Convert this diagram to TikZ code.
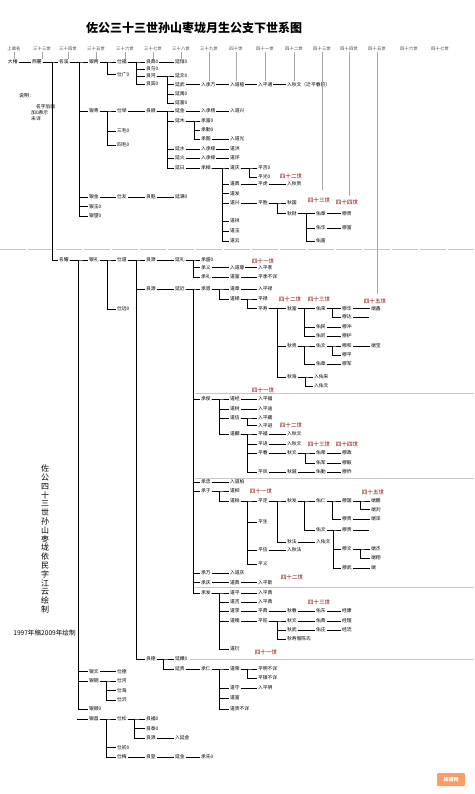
\documentclass[tikz,border=0pt]{standalone}
\usepackage{fontspec}
\newfontfamily\cjk{Noto Sans CJK SC}
\tikzset{
 nd/.style={anchor=west,inner sep=0.8pt,font=\cjk\fontsize{4.8}{5}\selectfont},
 hd/.style={inner sep=0.8pt,font=\cjk\fontsize{4.4}{5}\selectfont,text=black!75},
 rd/.style={inner sep=0.6pt,fill=white,font=\cjk\fontsize{5.6}{6}\selectfont,text=red!55!black},
 ln/.style={line width=0.75pt,black},
 tk/.style={line width=0.6pt,black!35},
 sep/.style={line width=1pt,black!22},
}
\newcommand\N[4]{\node[nd] (#1) at (#2,#3) {#4};}
\newcommand\br[3]{\foreach \cc in {#3}{\draw[ln] (#1.east) -- (#1.east -| #2,0) |- (\cc.west);}}
\newcommand\lk[2]{\draw[ln] (#1.east) -- (#2.west);}
\begin{document}
\begin{tikzpicture}[x=1pt,y=-1pt]
\useasboundingbox (0,0) rectangle (474,794);
\fill[white] (0,0) rectangle (474,794);
% title
\node[font=\cjk\bfseries\fontsize{12}{13}\selectfont] (title) at (194,28) {佐公三十三世孙山枣垅月生公支下世系图};
% headers
\node[hd] (h0) at (14,49) {上辈名};
\node[hd] (h33) at (42,49) {三十三世};
\node[hd] (h34) at (68,49) {三十四世};
\node[hd] (h35) at (96,49) {三十五世};
\node[hd] (h36) at (125,49) {三十六世};
\node[hd] (h37) at (153,49) {三十七世};
\node[hd] (h38) at (181,49) {三十八世};
\node[hd] (h39) at (209,49) {三十九世};
\node[hd] (h40) at (236,49) {四十世};
\node[hd] (h41) at (265,49) {四十一世};
\node[hd] (h42) at (294,49) {四十二世};
\node[hd] (h43) at (322,49) {四十三世};
\node[hd] (h44) at (349,49) {四十四世};
\node[hd] (h45) at (377,49) {四十五世};
\node[hd] (h46) at (409,49) {四十六世};
\node[hd] (h47) at (440,49) {四十七世};
% separators
\draw[sep,dash pattern=on 26pt off 2pt] (0,249.5) -- (474,249.5);
\draw[sep] (195,393.5) -- (474,393.5);
\draw[sep] (195,478) -- (474,478);
\draw[sep] (195,587) -- (474,587);
\draw[sep] (190,659) -- (474,659);
% notes
\node[anchor=west,inner sep=0pt,font=\cjk\fontsize{5}{5}\selectfont] (sm) at (19,96) {说明：};
\node[anchor=north west,inner sep=0pt,align=left,font=\cjk\fontsize{4.8}{6.2}\selectfont] (smt) at (31,104) {\quad 名字后面\\加0表示\\未详};
\node[align=center,inner sep=0pt,font=\cjk\fontsize{8}{8.8}\selectfont] (vt) at (45,539) {佐\\公\\四\\十\\三\\世\\孙\\山\\枣\\垅\\依\\民\\字\\江\\云\\绘\\制};
\node[inner sep=0pt,font=\cjk\fontsize{6.6}{7}\selectfont] (dt) at (44.5,633) {1997年稿2009年绘制};
% ---- top section
\N{t0}{7}{62}{大椿}
\N{t1}{31}{62}{西麓}
\N{t2}{58}{62}{名溪}
\N{t3}{88}{62}{银两}
\N{t4}{116}{62}{仕福}
\N{t4b}{116}{74.5}{仕广0}
\N{t5a}{145}{62}{良典0}
\N{t5b}{145}{69}{良与0}
\N{t5c}{145}{76}{良河}
\N{t5d}{145}{84}{良宾0}
\N{t6}{174}{62}{延恒0}
\N{t6a}{174}{76}{延文0}
\N{t6b}{174}{84.5}{延武}
\N{t6c}{174}{94}{延禹0}
\N{t6d}{174}{103}{延富0}
\N{t7}{200}{84.5}{入承万}
\N{t8}{229}{84.5}{入道植}
\N{t9}{257}{84.5}{入平通}
\N{t10}{286}{84.5}{入秋文（迁平春前）}
\N{u3}{88}{111}{银青}
\N{u4}{116}{111}{仕举}
\N{u4b}{116}{131}{三毛0}
\N{u4c}{116}{145}{四毛0}
\N{u5}{145}{111}{良顺}
\N{u6a}{174}{111}{延金}
\N{u6b}{174}{121}{延木}
\N{u6c}{174}{149}{延水}
\N{u6d}{174}{158}{延火}
\N{u6e}{174}{168}{延日}
\N{u7a}{200}{111}{入承榜}
\N{u8a}{229}{111}{入道兴}
\N{u7b}{200}{121}{承富0}
\N{u7c}{200}{130}{承勤0}
\N{u7d}{200}{139}{承图}
\N{u8d}{229}{139}{入道光}
\N{u7e}{200}{149}{入承樑}
\N{u8e}{229}{149}{道洪}
\N{u7f}{200}{158}{入承樑}
\N{u8f}{229}{158}{道评}
\N{u7g}{200}{168}{承樑}
\N{u8g1}{229}{168}{道庆}
\N{u8g2}{229}{184}{道典}
\N{u8g3}{229}{193.5}{道发}
\N{u8g4}{229}{203}{道兴}
\N{u8g5}{229}{221}{道祥}
\N{u8g6}{229}{231}{道玉}
\N{u8g7}{229}{241}{道云}
\N{u9a}{257}{168}{平吉0}
\N{u9b}{257}{177}{平光0}
\N{u9c}{257}{184}{平虎}
\N{u10c}{286}{184}{入秋贵}
\N{u9d}{257}{203}{平胜}
\N{u10d}{286}{203}{秋国}
\N{u10e}{286}{213.5}{秋财}
\N{u11a}{315}{213.5}{佑章}
\N{u11b}{315}{228}{佑华}
\N{u11c}{315}{241}{佑富}
\N{u12a}{341}{213.5}{穆贵}
\N{u12b}{341}{228}{穆富}
\N{v3a}{88}{197}{银金}
\N{v3b}{88}{206.5}{银玉0}
\N{v3c}{88}{216}{银望0}
\N{v4}{116}{197}{仕友}
\N{v5}{145}{197}{良魁}
\N{v6}{174}{197}{延满0}
% ---- bottom section
\N{w2}{58}{260}{名耀}
\N{w3}{88}{260}{银礼}
\N{w4}{116}{260}{仕道}
\N{w4b}{116}{309}{仕远0}
\N{w5a}{145}{260}{良源}
\N{w5b}{145}{289}{良源}
\N{w6a}{174}{260}{延礼}
\N{w7a}{200}{260}{承盛0}
\N{w7b}{200}{267.5}{承义}
\N{w7c}{200}{277}{承礼}
\N{w8b}{229}{267.5}{入道尊}
\N{w8c}{229}{277}{道富}
\N{w9b}{257}{267.5}{入平孝}
\N{w9c}{257}{277}{平季不详}
\N{x6}{174}{289}{延近}
\N{x7}{200}{289}{承恩}
\N{x8a}{229}{289}{道章}
\N{x8b}{229}{299}{道梯}
\N{x9a}{257}{289}{入平禄}
\N{x9b}{257}{299}{平禄}
\N{x9c}{257}{308.5}{平寿}
\N{x10a}{286}{308.5}{秋富}
\N{x10b}{286}{346}{秋贵}
\N{x10c}{286}{377}{秋海}
\N{x11a}{315}{308.5}{佑来}
\N{x11b}{315}{327}{佑民}
\N{x11c}{315}{336}{佑尼}
\N{x11d}{315}{346}{佑文}
\N{x11e}{315}{364}{佑章}
\N{x11f}{313}{377}{入佑来}
\N{x11g}{313}{386}{入佑文}
\N{x12a}{341}{308.5}{穆华}
\N{x12b}{341}{317}{穆达}
\N{x12c}{341}{327}{穆冲}
\N{x12d}{341}{336}{穆护}
\N{x12e}{341}{346}{穆和}
\N{x12f}{341}{355}{穆平}
\N{x12g}{341}{364}{穆军}
\N{x13a}{370}{308.5}{端鑫}
\N{x13b}{370}{346}{端宝}
\coordinate (x12bs) at (369,317);
\N{y7}{200}{399}{承俊}
\N{y8a}{229}{399}{道经}
\N{y8b}{229}{409}{道树}
\N{y8c}{229}{418}{道信}
\N{y8d}{229}{434}{道麟}
\N{y9a}{257}{399}{入平福}
\N{y9b}{257}{409}{入平迪}
\N{y9c}{257}{418}{入平藏}
\N{y9d}{257}{425.5}{入平进}
\N{y9e}{257}{434}{平福}
\N{y9f}{257}{444}{平进}
\N{y9g}{257}{453}{平春}
\N{y9h}{257}{472}{平凤}
\N{y10a}{286}{434}{入秋文}
\N{y10b}{286}{444}{入秋文}
\N{y10c}{286}{453}{秋文}
\N{y10d}{286}{472}{秋越}
\N{y11a}{315}{453}{佑荣}
\N{y11b}{315}{463}{佑军}
\N{y11c}{315}{472}{佑勤}
\N{y12a}{341}{453}{穆政}
\N{y12b}{341}{463}{穆毅}
\N{y12c}{341}{472}{穆侨}
\N{z7a}{200}{482}{承忠}
\N{z8a}{229}{482}{入道柏}
\N{z7b}{200}{491}{承于}
\N{z8b}{229}{491}{道柳}
\N{z8c}{229}{501}{道柏}
\N{z9a}{257}{501}{平定}
\N{z9b}{257}{522}{平生}
\N{z9c}{257}{550}{平信}
\N{z9d}{257}{564}{平义}
\N{z10a}{286}{501}{秋发}
\N{z10b}{286}{542}{秋法}
\N{z10c}{286}{550}{入秋法}
\N{z11a}{315}{501}{佑仁}
\N{z11b}{315}{530}{佑文}
\N{z11c}{315}{542}{入佑文}
\N{z12a}{341}{501}{穆国}
\N{z12b}{341}{519}{穆贵}
\N{z12c}{341}{530}{穆贵}
\N{z12d}{341}{549}{穆文}
\N{z12e}{341}{568}{穆武}
\N{z13a}{370}{501}{端鹏}
\N{z13b}{370}{509.5}{端刘}
\N{z13c}{370}{519}{端泽}
\N{z13d}{370}{549}{端杰}
\N{z13e}{370}{558}{端翔}
\N{z13f}{370}{568}{端}
\coordinate (z12cs) at (369,530);
\N{e7a}{200}{573}{承万}
\N{e8a}{229}{573}{入道庆}
\N{e7b}{200}{582.5}{承庆}
\N{e8b}{229}{582.5}{道典}
\N{e9b}{257}{582.5}{入平斯}
\N{e7c}{200}{593}{承发}
\N{e8c1}{229}{593}{道平}
\N{e8c2}{229}{602}{道吉}
\N{e8c3}{229}{611}{道李}
\N{e8c4}{229}{621}{道槐}
\N{e8c5}{229}{649}{道衍}
\N{e9c1}{257}{593}{入平典}
\N{e9c2}{257}{602}{入平典}
\N{e9c3}{257}{611}{平典}
\N{e9c4}{257}{621}{平旺}
\N{e10a}{286}{611}{秋春}
\N{e10b}{286}{621}{秋文}
\N{e10c}{286}{630}{秋武}
\N{e10d}{286}{639}{秋寿僧陈氏}
\N{e11a}{315}{611}{佑东}
\N{e11b}{315}{621}{佑典}
\N{e11c}{315}{630}{佑庄}
\N{e12a}{341}{611}{经康}
\N{e12b}{341}{621}{经理}
\N{e12c}{341}{630}{经流}
\N{f5}{145}{659}{良德}
\N{f6a}{174}{659}{延嫩0}
\N{f6b}{174}{669}{延贵}
\N{f7}{200}{669}{承仁}
\N{f8a}{229}{669}{道荣}
\N{f8b}{229}{688}{道守}
\N{f8c}{229}{698}{道富}
\N{f8d}{229}{709}{道贵不详}
\N{f9a}{257}{669}{平明不详}
\N{f9b}{257}{678}{平银不详}
\N{f9c}{257}{688}{入平明}
\N{g3a}{88}{671.5}{银文}
\N{g3b}{88}{681}{银钢}
\N{g3c}{88}{709}{银顺0}
\N{g4a}{116}{671.5}{仕德}
\N{g4b}{116}{681}{仕河}
\N{g4c}{116}{690.5}{仕海}
\N{g4d}{116}{700}{仕沢}
\coordinate (gst) at (77,719);
\N{g3d}{88}{719}{银昌}
\N{g4e}{116}{719}{仕松}
\N{g4f}{116}{747.5}{仕初0}
\N{g4g}{116}{757}{仕梅}
\N{g5a}{145}{719}{良福0}
\N{g5b}{145}{728.5}{良泰0}
\N{g5c}{145}{738}{良源}
\N{g6c}{174}{738}{入延金}
\N{g5d}{145}{757}{良登}
\N{g6d}{174}{757}{延金}
\N{g7d}{200}{757}{承先0}
% ---- header ticks
\draw[tk] (h0.south) -- (h0.south |- t0.north);
\draw[tk] (h33.south) -- (h33.south |- t1.north);
\draw[tk] (h34.south) -- (h34.south |- t2.north);
\draw[tk] (h35.south) -- (h35.south |- t3.north);
\draw[tk] (h36.south) -- (h36.south |- t4.north);
\draw[tk] (h37.south) -- (h37.south |- t5a.north);
\draw[tk] (h38.south) -- (h38.south |- t6.north);
\draw[tk] (h39.south) -- (h39.south |- t7.north);
\draw[tk] (h40.south) -- (h40.south |- t8.north);
\draw[tk] (h41.south) -- (h41.south |- t9.north);
\draw[tk] (h42.south) -- (h42.south |- t10.north);
\coordinate (h43e) at (322,190);
\coordinate (h44e) at (349,196);
\coordinate (h45e) at (377,294);
\draw[tk] (h43.south) -- (h43.south |- h43e);
\draw[tk] (h44.south) -- (h44.south |- h44e);
\draw[tk] (h45.south) -- (h45.south |- h45e);
% ---- connectors top
\lk{t0}{t1}
\br{t1}{52}{t2,w2}
\br{t2}{79}{t3,u3,v3a,v3b,v3c}
\br{t3}{107}{t4,t4b}
\br{t4}{136}{t5a,t5b,t5c,t5d}
\lk{t5a}{t6}
\br{t5c}{167}{t6a,t6b,t6c,t6d}
\lk{t6b}{t7}\lk{t7}{t8}\lk{t8}{t9}\lk{t9}{t10}
\br{u3}{107}{u4,u4b,u4c}
\lk{u4}{u5}
\br{u5}{167}{u6a,u6b,u6c,u6d,u6e}
\lk{u6a}{u7a}\lk{u7a}{u8a}
\br{u6b}{194}{u7b,u7c,u7d}
\lk{u7d}{u8d}
\lk{u6c}{u7e}\lk{u7e}{u8e}
\lk{u6d}{u7f}\lk{u7f}{u8f}
\lk{u6e}{u7g}
\br{u7g}{222}{u8g1,u8g2,u8g3,u8g4,u8g5,u8g6,u8g7}
\br{u8g1}{249}{u9a,u9b}
\lk{u8g2}{u9c}\lk{u9c}{u10c}
\lk{u8g4}{u9d}
\br{u9d}{277}{u10d,u10e}
\br{u10e}{306}{u11a,u11b,u11c}
\lk{u11a}{u12a}\lk{u11b}{u12b}
\lk{v3a}{v4}\lk{v4}{v5}\lk{v5}{v6}
% ---- connectors bottom
\br{w2}{78}{w3,g3a,g3b,g3c}
\br{w3}{107}{w4,w4b}
\br{w4}{136}{w5a,w5b,f5}
\lk{w5a}{w6a}
\br{w6a}{193}{w7a,w7b,w7c}
\lk{w7b}{w8b}\lk{w8b}{w9b}
\lk{w7c}{w8c}\lk{w8c}{w9c}
\lk{w5b}{x6}
\br{x6}{193}{x7,y7,z7a,z7b,e7a,e7b,e7c}
\br{x7}{219}{x8a,x8b}
\lk{x8a}{x9a}
\br{x8b}{247}{x9b,x9c}
\br{x9c}{277}{x10a,x10b,x10c}
\br{x10a}{304}{x11a,x11b,x11c}
\br{x11a}{332}{x12a,x12b}
\lk{x12a}{x13a}
\draw[ln] (x12b.east) -- (x12bs);
\lk{x11b}{x12c}\lk{x11c}{x12d}
\br{x10b}{304}{x11d,x11e}
\br{x11d}{332}{x12e,x12f}
\lk{x12e}{x13b}
\lk{x11e}{x12g}
\br{x10c}{305}{x11f,x11g}
\br{y7}{219}{y8a,y8b,y8c,y8d}
\lk{y8a}{y9a}\lk{y8b}{y9b}
\br{y8c}{247}{y9c,y9d}
\br{y8d}{247}{y9e,y9f,y9g,y9h}
\lk{y9e}{y10a}\lk{y9f}{y10b}\lk{y9g}{y10c}\lk{y9h}{y10d}
\br{y10c}{305}{y11a,y11b}
\lk{y11a}{y12a}\lk{y11b}{y12b}
\lk{y10d}{y11c}\lk{y11c}{y12c}
\lk{z7a}{z8a}
\br{z7b}{219}{z8b,z8c}
\br{z8c}{247}{z9a,z9b,z9c,z9d}
\br{z9a}{277}{z10a,z10b}
\br{z10a}{304}{z11a,z11b}
\br{z11a}{332}{z12a,z12b}
\br{z12a}{360}{z13a,z13b}
\lk{z12b}{z13c}
\br{z11b}{333}{z12c,z12d,z12e}
\draw[ln] (z12c.east) -- (z12cs);
\br{z12d}{360}{z13d,z13e}
\lk{z12e}{z13f}
\lk{z10b}{z11c}
\lk{z9c}{z10c}
\lk{e7a}{e8a}
\lk{e7b}{e8b}\lk{e8b}{e9b}
\br{e7c}{219}{e8c1,e8c2,e8c3,e8c4,e8c5}
\lk{e8c1}{e9c1}\lk{e8c2}{e9c2}\lk{e8c3}{e9c3}\lk{e9c3}{e10a}\lk{e10a}{e11a}\lk{e11a}{e12a}
\lk{e8c4}{e9c4}
\br{e9c4}{277}{e10b,e10c,e10d}
\lk{e10b}{e11b}\lk{e11b}{e12b}
\lk{e10c}{e11c}\lk{e11c}{e12c}
\br{f5}{163}{f6a,f6b}
\lk{f6b}{f7}
\br{f7}{219}{f8a,f8b,f8c,f8d}
\br{f8a}{247}{f9a,f9b}
\lk{f8b}{f9c}
\lk{g3a}{g4a}
\br{g3b}{106}{g4b,g4c,g4d}
\draw[ln] (gst) -- (g3d.west);
\br{g3d}{106}{g4e,g4f,g4g}
\br{g4e}{134}{g5a,g5b,g5c}
\lk{g5c}{g6c}
\lk{g4g}{g5d}\lk{g5d}{g6d}\lk{g6d}{g7d}
% ---- red generation labels
\node[rd] (r1) at (291,176) {四十二世};
\node[rd] (r2) at (319,200) {四十三世};
\node[rd] (r3) at (347,202.5) {四十四世};
\node[rd] (r4) at (263,261) {四十一世};
\node[rd] (r5) at (290,299) {四十二世};
\node[rd] (r6) at (319,299) {四十三世};
\node[rd] (r7) at (375,301) {四十五世};
\node[rd] (r8) at (263,390) {四十一世};
\node[rd] (r9) at (291,425) {四十二世};
\node[rd] (r10) at (319,444) {四十三世};
\node[rd] (r11) at (347,444) {四十四世};
\node[rd] (r12) at (261,491) {四十一世};
\node[rd] (r13) at (373,492) {四十五世};
\node[rd] (r14) at (292,577) {四十二世};
\node[rd] (r15) at (319,602) {四十三世};
\node[rd] (r16) at (266,652) {四十一世};
% watermark
\node[fill=orange!70!red!60,rounded corners=1pt,minimum width=28pt,minimum height=13pt,inner sep=0.5pt,text=white,font=\cjk\bfseries\fontsize{5}{5}\selectfont] (wm) at (451,779.5) {族谱网};
\end{tikzpicture}
\end{document}
